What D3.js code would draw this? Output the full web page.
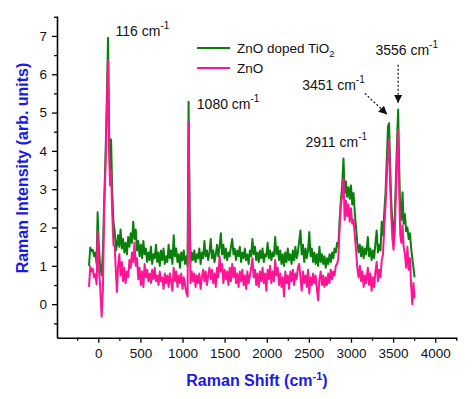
<!DOCTYPE html>
<html>
<head>
<meta charset="utf-8">
<script src="https://cdn.jsdelivr.net/npm/d3@7"></script>
<style>
  body { margin: 0; background: #fff; }
  text { font-family: Arial, "Liberation Sans", sans-serif; }
</style>
</head>
<body>
<div id="my_dataviz"></div>
<script>
//----------------------DATI----------------------
const shift = [
  -110, -95, -80, -65, -50, -35, -20, -8, 5, 20, 40, 55, 70, 85, 100, 116, 128, 140, 152, 165,
  180, 195, 210, 222, 235, 250, 265, 280, 295, 310, 325, 340, 355, 370, 385, 400, 415, 430, 445, 460,
  475, 490, 505, 520, 535, 550, 565, 580, 595, 610, 625, 640, 655, 670, 685, 700, 715, 730, 745, 760,
  775, 790, 805, 820, 835, 850, 865, 880, 895, 910, 925, 940, 955, 970, 985, 1000, 1015, 1030, 1045, 1060,
  1072, 1085, 1095, 1110, 1125, 1140, 1155, 1170, 1185, 1200, 1215, 1230, 1245, 1260, 1275, 1290, 1305, 1320, 1335, 1350,
  1365, 1380, 1395, 1410, 1425, 1440, 1455, 1470, 1485, 1500, 1515, 1530, 1545, 1560, 1575, 1590, 1605, 1620, 1635, 1650,
  1665, 1680, 1695, 1710, 1725, 1740, 1755, 1770, 1785, 1800, 1815, 1830, 1845, 1860, 1875, 1890, 1905, 1920, 1935, 1950,
  1965, 1980, 1995, 2010, 2025, 2040, 2055, 2070, 2085, 2100, 2115, 2130, 2145, 2160, 2175, 2190, 2205, 2220, 2235, 2250,
  2265, 2280, 2295, 2310, 2325, 2340, 2355, 2370, 2385, 2400, 2415, 2430, 2445, 2460, 2475, 2490, 2505, 2520, 2535, 2550,
  2565, 2580, 2595, 2610, 2625, 2640, 2655, 2670, 2685, 2700, 2715, 2730, 2745, 2760, 2775, 2790, 2805, 2820, 2835, 2850,
  2865, 2880, 2895, 2911, 2925, 2940, 2955, 2970, 2985, 3000, 3015, 3030, 3045, 3060, 3075, 3090, 3105, 3120, 3135, 3150,
  3165, 3180, 3200, 3215, 3230, 3245, 3260, 3275, 3290, 3305, 3320, 3335, 3350, 3365, 3380, 3395, 3410, 3425, 3440, 3452,
  3465, 3478, 3492, 3505, 3520, 3535, 3550, 3560, 3572, 3585, 3598, 3612, 3625, 3640, 3655, 3670, 3685, 3700, 3715, 3728,
  3742, 3755
];

// ZnO doped TiO2 (verde)
const dopedTiO2 = [
  1.00, 1.48, 1.38, 1.42, 1.25, 1.35, 1.05, 2.40, 1.60, 1.05, 0.75, 1.40, 2.70, 3.80, 5.20, 6.95, 4.60, 3.40, 4.30, 3.00,
  2.15, 1.90, 1.40, 1.55, 1.80, 1.50, 1.95, 1.45, 1.70, 1.35, 1.60, 1.30, 1.75, 1.50, 1.85, 1.60, 2.15, 1.70, 1.95, 1.40,
  1.65, 1.25, 1.55, 1.20, 1.65, 1.30, 1.45, 1.10, 1.35, 1.15, 1.50, 1.05, 1.30, 1.20, 1.55, 1.10, 1.35, 1.00, 1.40, 1.15,
  1.45, 1.05, 1.25, 1.10, 1.55, 1.20, 1.40, 1.05, 1.80, 1.25, 1.45, 1.10, 1.30, 0.95, 1.35, 1.15, 1.40, 1.05, 1.25, 1.00,
  5.28, 2.40, 1.10, 1.35, 1.15, 1.40, 1.10, 1.30, 1.20, 1.45, 1.05, 1.35, 1.20, 1.65, 1.25, 1.40, 1.15, 1.35, 1.70, 1.20,
  1.40, 1.10, 1.30, 1.55, 1.25, 1.50, 1.85, 1.30, 1.55, 1.20, 1.45, 1.15, 1.35, 1.25, 1.50, 1.70, 1.30, 1.45, 1.15, 1.40,
  1.25, 1.50, 1.10, 1.35, 1.20, 1.45, 1.15, 1.30, 1.05, 1.40, 1.25, 1.70, 1.30, 1.50, 1.15, 1.35, 1.10, 1.40, 1.20, 1.45,
  1.10, 1.30, 1.25, 1.60, 1.20, 1.40, 1.15, 1.35, 1.25, 1.75, 1.30, 1.50, 1.15, 1.40, 1.05, 1.30, 1.00, 1.35, 1.10, 1.45,
  1.15, 1.30, 1.05, 1.40, 1.15, 1.50, 1.20, 1.35, 1.65, 1.92, 1.30, 1.55, 1.10, 1.45, 1.20, 1.40, 1.88, 1.25, 1.45, 1.10,
  1.35, 1.05, 1.30, 1.00, 1.50, 1.10, 1.30, 1.05, 1.25, 0.95, 1.20, 1.05, 1.30, 1.10, 1.35, 1.20, 1.45, 1.35, 1.60, 1.50,
  2.20, 2.70, 3.10, 3.80, 2.90, 3.20, 2.80, 3.05, 2.75, 3.10, 2.60, 2.90, 2.40, 2.00, 1.60, 1.35, 1.55, 1.25, 1.50, 1.20,
  1.45, 1.30, 1.75, 1.25, 1.45, 1.15, 1.40, 1.20, 1.60, 1.92, 1.35, 1.55, 1.40, 2.15, 1.80, 2.40, 2.90, 3.80, 4.65, 4.72,
  3.60, 2.70, 2.10, 1.75, 2.30, 3.40, 4.50, 5.08, 3.60, 2.45, 2.20, 2.92, 2.10, 2.35, 1.90, 2.00, 1.70, 1.85, 1.45, 1.20,
  0.95, 0.70
];

// ZnO (rosa)
const pureZnO = [
  0.45, 0.98, 0.85, 0.92, 0.70, 0.78, 0.52, 1.90, 0.95, 0.55, -0.33, 0.40, 2.40, 3.50, 4.90, 6.38, 4.00, 3.10, 3.50, 2.40,
  1.55, 1.50, 0.80, 0.32, 1.00, 1.30, 0.75, 1.10, 0.60, 0.95, 0.55, 0.85, 0.70, 1.15, 0.95, 1.35, 1.10, 1.60, 1.00, 1.20,
  0.65, 0.95, 0.50, 0.85, 0.45, 1.05, 0.70, 0.90, 0.60, 0.80, 0.55, 0.90, 0.65, 0.95, 0.60, 0.75, 0.50, 0.85, 0.60, 0.70,
  0.40, 0.80, 0.55, 0.75, 0.45, 0.80, 0.60, 0.35, 0.95, 0.60, 0.85, 0.45, 0.75, 0.55, 0.80, 0.40, 0.70, 0.50, 0.30, 0.20,
  4.75, 2.00, 0.55, 0.85, 0.60, 0.80, 0.45, 0.75, 0.55, 0.80, 0.40, 0.70, 0.90, 0.60, 0.85, 0.50, 0.75, 0.95, 0.65, 0.90,
  0.55, 0.80, 0.45, 0.95, 0.70, 1.25, 0.85, 1.05, 0.55, 0.90, 0.65, 0.85, 0.50, 0.95, 0.60, 1.05, 0.70, 0.95, 0.55, 0.80,
  0.45, 0.85, 0.60, 0.90, 0.50, 0.75, 0.40, 0.85, 0.55, 0.75, 0.95, 1.20, 0.70, 0.90, 0.50, 0.80, 0.45, 0.85, 0.60, 0.95,
  0.55, 0.80, 0.35, 0.90, 0.65, 1.00, 0.55, 0.85, 0.60, 1.15, 0.75, 0.95, 0.50, 0.80, 0.45, 0.70, 0.20, 0.85, 0.55, 0.75,
  0.40, 0.85, 0.60, 0.90, 0.50, 0.80, 0.65, 0.95, 1.05, 0.70, 0.35, 0.85, 0.55, 0.75, 0.45, 0.90, 0.28, 0.70, 0.50, 0.80,
  0.55, 0.75, 0.40, 0.10, 0.65, 0.85, 0.50, 0.75, 0.45, 0.70, 0.50, 0.80, 0.55, 0.90, 0.65, 0.85, 0.75, 1.00, 1.05, 1.20,
  2.00, 2.60, 2.80, 3.28, 2.20, 2.70, 2.30, 2.60, 2.15, 2.50, 2.10, 2.20, 1.80, 1.40, 0.95, 0.70, 1.00, 0.60, 0.85, 0.45,
  0.75, 0.55, 0.95, 0.50, 0.80, 0.35, 0.70, 0.45, 0.85, 1.10, 0.60, 0.90, 0.70, 1.15, 1.30, 2.00, 2.55, 3.30, 4.05, 4.30,
  3.10, 2.30, 1.70, 1.42, 1.90, 3.00, 4.00, 4.55, 3.00, 1.80, 1.60, 2.05, 1.50, 1.30, 0.95, 1.50, 0.90, 1.20, 0.45, 0.00,
  0.55, 0.15
];

const seriesNames = ["ZnO doped TiO", "ZnO"];
const seriesColors = ["#0b7f0b", "#ff1493"];

const xTicks = [0, 500, 1000, 1500, 2000, 2500, 3000, 3500, 4000];
const xMinorTicks = [-250, 250, 750, 1250, 1750, 2250, 2750, 3250, 3750, 4250];
const yTicks = [0, 1, 2, 3, 4, 5, 6, 7];
const yMinorTicks = [-0.5, 0.5, 1.5, 2.5, 3.5, 4.5, 5.5, 6.5, 7.5];

// picchi annotati: testo, posizione (valore x, valore y)
const peakLabels = [
  { txt: "116 cm", x: 205, y: 7.0 },
  { txt: "1080 cm", x: 1170, y: 5.1 },
  { txt: "2911 cm", x: 2460, y: 4.1 },
  { txt: "3451 cm", x: 2420, y: 5.6 },
  { txt: "3556 cm", x: 3290, y: 6.5 }
];

//----------------------D3----------------------
const W = 474, H = 399;
const margLeft = 57, margRight = 456.7, margTop = 16, margBottom = 337.7;

const svg = d3.select("#my_dataviz")
  .append("svg")
  .attr("width", W)
  .attr("height", H);

const x = d3.scaleLinear().domain([-490, 4255]).range([margLeft, margRight]);
const y = d3.scaleLinear().domain([-0.875, 7.52]).range([margBottom, margTop]);

// linee (prima il verde, sopra il rosa)
const line = d3.line()
  .x((d, i) => x(shift[i]))
  .y(d => y(d));

[dopedTiO2, pureZnO].forEach((serie, k) => {
  svg.append("path")
    .datum(serie)
    .attr("d", line)
    .attr("fill", "none")
    .attr("stroke", seriesColors[k])
    .attr("stroke-width", 2)
    .attr("stroke-linejoin", "round");
});

// assi
svg.append("g")
  .attr("transform", `translate(0, ${margBottom})`)
  .call(d3.axisBottom(x).tickValues(xTicks).tickFormat(d3.format("d"))
    .tickSize(5).tickPadding(6).tickSizeOuter(0));
svg.append("g")
  .attr("transform", `translate(0, ${margBottom})`)
  .call(d3.axisBottom(x).tickValues(xMinorTicks).tickSize(3).tickFormat("").tickSizeOuter(0))
  .select(".domain").remove();

svg.append("g")
  .attr("transform", `translate(${margLeft}, 0)`)
  .call(d3.axisLeft(y).tickValues(yTicks).tickSize(5).tickPadding(5).tickSizeOuter(0));
svg.append("g")
  .attr("transform", `translate(${margLeft}, 0)`)
  .call(d3.axisLeft(y).tickValues(yMinorTicks).tickSize(3).tickFormat("").tickSizeOuter(0))
  .select(".domain").remove();

svg.selectAll(".domain").attr("stroke-width", 1.6);
svg.selectAll(".tick line").attr("stroke-width", 1.3);
svg.selectAll(".tick text")
  .attr("font-size", "13.5px")
  .attr("font-family", "Arial, 'Liberation Sans', sans-serif")
  .attr("fill", "#111");

// titoli assi
const xt = svg.append("text")
  .attr("x", 257)
  .attr("y", 386)
  .attr("text-anchor", "middle")
  .attr("font-weight", "bold")
  .attr("font-size", "16px")
  .attr("fill", "#1a1ae6");
xt.append("tspan").text("Raman Shift (cm");
xt.append("tspan").attr("dy", -6).attr("font-size", "11px").text("-1");
xt.append("tspan").attr("dy", 6).text(")");

svg.append("text")
  .attr("transform", "translate(28, 168) rotate(-90)")
  .attr("text-anchor", "middle")
  .attr("font-weight", "bold")
  .attr("font-size", "16px")
  .attr("fill", "#1a1ae6")
  .text("Raman Intensity (arb. units)");

// legenda
seriesNames.forEach((nome, i) => {
  const ly = 48 + i * 20;
  svg.append("line")
    .attr("x1", 197).attr("x2", 230)
    .attr("y1", ly).attr("y2", ly)
    .attr("stroke", seriesColors[i])
    .attr("stroke-width", 2);
  const t = svg.append("text")
    .attr("x", 237)
    .attr("y", ly + 5)
    .attr("font-size", "13.5px")
    .attr("fill", "#111");
  t.append("tspan").text(nome);
  if (i == 0) {
    t.append("tspan").attr("dy", 4).attr("font-size", "9.5px").text("2");
  }
});

// etichette picchi
peakLabels.forEach(p => {
  const t = svg.append("text")
    .attr("x", x(p.x))
    .attr("y", y(p.y))
    .attr("font-size", "14px")
    .attr("fill", "#111");
  t.append("tspan").text(p.txt);
  t.append("tspan").attr("dy", -7).attr("font-size", "10px").text("-1");
});

// frecce tratteggiate
svg.append("defs").append("marker")
  .attr("id", "freccia")
  .attr("viewBox", "0 0 10 10")
  .attr("refX", 10).attr("refY", 5)
  .attr("markerWidth", 7).attr("markerHeight", 7)
  .attr("orient", "auto")
  .append("path")
  .attr("d", "M0,0 L10,5 L0,10 z")
  .attr("fill", "#111");

const arrows = [
  { x1: 3165, y1: 5.5, x2: 3430, y2: 4.95 },
  { x1: 3560, y1: 6.25, x2: 3560, y2: 5.25 }
];
arrows.forEach(a => {
  svg.append("line")
    .attr("x1", x(a.x1)).attr("y1", y(a.y1))
    .attr("x2", x(a.x2)).attr("y2", y(a.y2))
    .attr("stroke", "#111")
    .attr("stroke-width", 1.2)
    .attr("stroke-dasharray", "2,2")
    .attr("marker-end", "url(#freccia)");
});
</script>
</body>
</html>
